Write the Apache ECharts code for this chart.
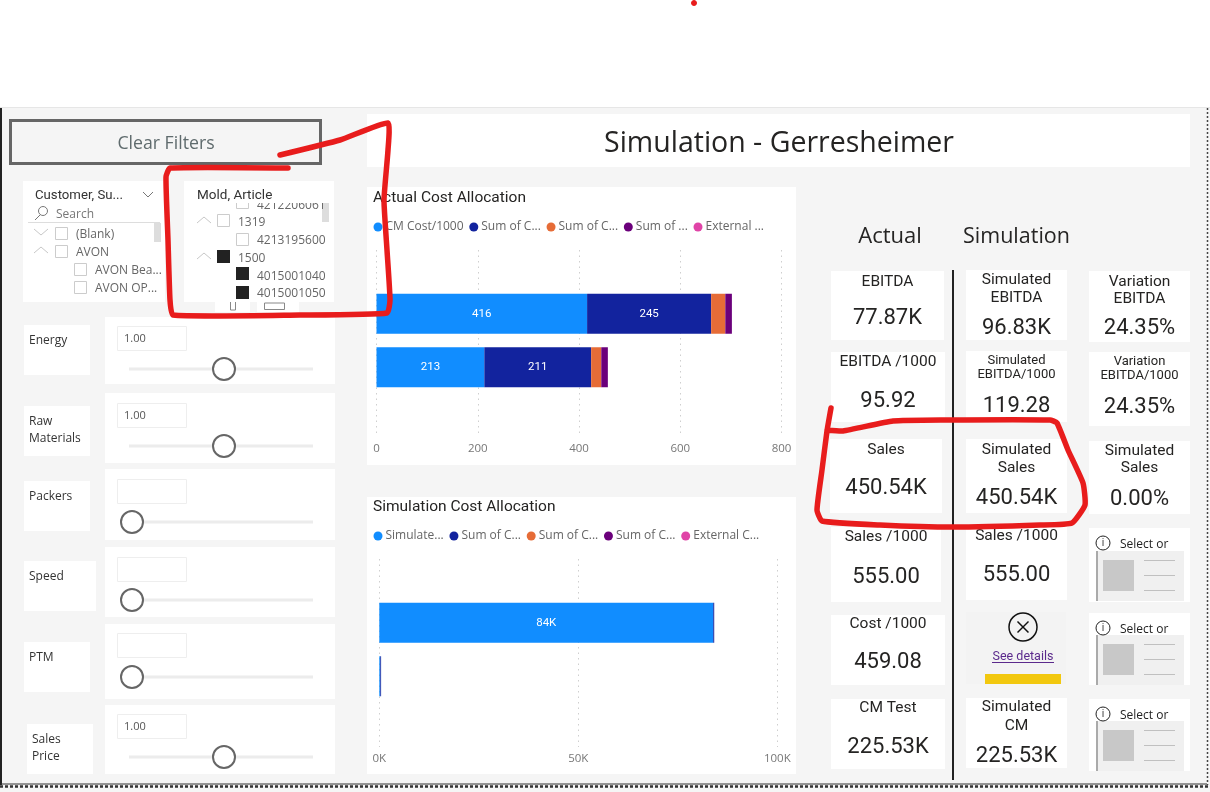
<!DOCTYPE html>
<html>
<head>
<meta charset="utf-8">
<title>Simulation - Gerresheimer</title>
<script src="https://cdn.jsdelivr.net/npm/echarts@6/dist/echarts.min.js"></script>
<style>
  html,body{margin:0;padding:0;background:#fff;overflow:hidden}
  #main{width:1210px;height:792px}
</style>
</head>
<body>
<div id="main"></div>
<script>
// chart values
const rows = ["Row 1", "Row 2"];
const actualLegend = ["CM Cost/1000", "Sum of C...", "Sum of C...", "Sum of ...", "External ..."];
const actualCm = [416, 213];
const actualC1 = [245, 211];
const actualC2 = [28, 20];
const actualC3 = [13, 13];
const actualExt = [0, 0];
const actualTicks = 200, actualMax = 800;

const simLegend = ["Simulate...", "Sum of C...", "Sum of C...", "Sum of C...", "External C..."];
const simCm = [83900, 250];
const simC1 = [250, 200];
const simC2 = [0, 0];
const simC3 = [0, 0];
const simExt = [0, 0];
const simTicks = 50000, simMax = 100000;

const seriesColors = ["#118DFF", "#12239E", "#E66C37", "#6B007B", "#E044A7"];

// card texts
const actualTitles = [["EBITDA"], ["EBITDA /1000"], ["Sales"], ["Sales /1000"], ["Cost /1000"], ["CM Test"]];
const actualValues = ["77.87K", "95.92", "450.54K", "555.00", "459.08", "225.53K"];
const simTitles = [["Simulated", "EBITDA"], ["Simulated", "EBITDA/1000"], ["Simulated", "Sales"], ["Sales /1000"], ["Simulated", "CM"]];
const simValues = ["96.83K", "119.28", "450.54K", "555.00", "225.53K"];
const varTitles = [["Variation", "EBITDA"], ["Variation", "EBITDA/1000"], ["Simulated", "Sales"]];
const varValues = ["24.35%", "24.35%", "0.00%"];
const sliderNames = [["Energy"], ["Raw", "Materials"], ["Packers"], ["Speed"], ["PTM"], ["Sales", "Price"]];
const sliderValues = ["1.00", "1.00", "", "", "", "1.00"];

const DIN = "Roboto, sans-serif";
const SEGOE = "'Open Sans', sans-serif";
const INK = "#252423";
const g = [];

function rect(x, y, w, h, fill, z){
  g.push({type:"rect", z:z ?? -10, shape:{x, y, width:w, height:h}, style:{fill}});
}
function box(x, y, w, h, stroke, lw, fill, z){
  g.push({type:"rect", z:z ?? 5, shape:{x, y, width:w, height:h}, style:{fill:fill||"none", stroke, lineWidth:lw}});
}
function label(x, y, s, size, fill, font, align, z){
  g.push({type:"text", z:z ?? 10, x, y:y+1.5, style:{text:s, fontSize:size, fill, fontFamily:font||DIN, align:align||"left", verticalAlign:"middle"}});
}
function line(pts, stroke, lw, z, dash){
  g.push({type:"polyline", z:z ?? 5, shape:{points:pts}, style:{fill:"none", stroke, lineWidth:lw, lineDash:dash}});
}
function circle(cx, cy, r, stroke, lw, fill, z){
  g.push({type:"circle", z:z ?? 6, shape:{cx, cy, r}, style:{fill:fill||"none", stroke, lineWidth:lw}});
}
function stroke(pts){
  g.push({type:"polyline", z:100, shape:{points:pts, smooth:0.15},
    style:{fill:"none", stroke:"#E81C1C", lineWidth:5.5, lineCap:"round", lineJoin:"round"}});
}

// page frame
rect(0, 107, 1210, 1, "#e6e6e6");
rect(0, 108, 1210, 684, "#F5F5F5");
line([[1,108],[1,785]], "#222", 2);
line([[1,784],[1207,784]], "#333", 1);
line([[0,786.5],[1208,786.5]], "#333", 2.5, 5, [3,2]);
line([[1207.5,108],[1207.5,785]], "#444", 1.5, 5, [2,2]);
circle(694, 3, 2.5, "#E81C1C", 1, "#E81C1C");

// clear button + title
box(10.5, 120.5, 310, 43, "#666", 3, "#F5F5F5", -9);
label(166, 142, "Clear Filters", 17.7, "#5F6B6D", SEGOE, "center");
rect(367, 114, 823, 53, "#fff");
label(779, 142, "Simulation - Gerresheimer", 28.5, INK, SEGOE, "center");

// slicers
function chev(x, y, up){
  const d = up ? -1 : 1;
  line([[x-7,y-3*d],[x,y+3*d],[x+7,y-3*d]], "#c8c8c8", 1);
}
function check(x, y, on){
  if(on) rect(x, y, 13, 13, "#222", 6);
  else box(x+.5, y+.5, 12, 12, "#ccc", 1, "#fff", 6);
}
rect(23, 181, 142, 121, "#fff");
label(35, 194, "Customer, Su...", 13.2, "#333", DIN);
line([[143,192],[148,197],[153,192]], "#777", 1);
circle(43, 211, 4.5, "#777", 1);
line([[40,215],[35,220]], "#777", 1);
label(56, 213, "Search", 12, "#777", SEGOE);
line([[28,222.5],[160,222.5]], "#ddd", 1);
rect(154, 223, 7, 19, "#ddd", 6);
chev(41, 232, false); check(55, 227); label(76, 233, "(Blank)", 12, "#666", SEGOE);
chev(41, 250, true); check(55, 245); label(76, 251, "AVON", 12, "#666", SEGOE);
check(74, 263); label(95, 269, "AVON Bea...", 12, "#666", SEGOE);
check(74, 281); label(95, 287, "AVON OP...", 12, "#666", SEGOE);

rect(184, 181, 150, 121, "#fff");
check(236, 196); label(257, 204, "4212206061", 12, "#666", SEGOE);
rect(184, 181, 150, 22, "#fff", 11);
label(197, 194, "Mold, Article", 13.5, "#333", DIN, "left", 12);
rect(322, 203, 7, 19, "#ddd", 6);
chev(204, 220, true); check(217, 214); label(238, 221, "1319", 12, "#666", SEGOE);
check(236, 233); label(257, 239, "4213195600", 12, "#666", SEGOE);
chev(204, 256, true); check(217, 250, true); label(238, 257, "1500", 12, "#666", SEGOE);
check(236, 267, true); label(257, 275, "4015001040", 12, "#666", SEGOE);
check(236, 286, true); label(257, 292, "4015001050", 12, "#666", SEGOE);
rect(215, 302, 35, 10, "#fff");
rect(257, 302, 42, 10, "#fff");
line([[230.5,302],[230.5,310],[235.5,310],[235.5,302]], "#888", 1);
line([[264.5,303],[264.5,309.5],[284.5,309.5],[284.5,303],[264.5,303]], "#888", 1);

// what-if sliders
const sliderPanels = [[317,67],[393,70],[469,71],[547,70],[624,75],[705,69]];
const sliderLabels = [[24,325,66],[24,406,66],[24,481,66],[24,561,72],[24,642,66],[27,724,66]];
const sliderInputY = [326,403,479,557,633,714];
const sliderTrackY = [369,446,522,600,677,757];
sliderNames.forEach((names, i)=>{
  const [py, ph] = sliderPanels[i];
  const [lx, ly, lw] = sliderLabels[i];
  rect(105, py, 230, ph, "#fff");
  rect(lx, ly, lw, 50, "#fff");
  names.forEach((n, k)=> label(lx+5, ly+14+k*17, n, 12, "#333", SEGOE));
  box(117.5, sliderInputY[i]+.5, 69, 24, "#eee", 1, "#fff", 5);
  if(sliderValues[i]) label(124, sliderInputY[i]+11, sliderValues[i], 11, "#555", SEGOE);
  line([[129,sliderTrackY[i]],[313,sliderTrackY[i]]], "#ececec", 3);
  circle(sliderValues[i] ? 224 : 132, sliderTrackY[i], 11, "#666", 2, "#fff");
});

// chart panels and their titles
rect(367, 187, 429, 278, "#fff");
rect(367, 497, 429, 277, "#fff");
label(373, 197, "Actual Cost Allocation", 15.5, INK, DIN);
label(373, 506, "Simulation Cost Allocation", 15.5, INK, DIN);

// kpi cards
label(890, 235, "Actual", 22, INK, SEGOE, "center");
label(1016.5, 235, "Simulation", 21.5, INK, SEGOE, "center");
line([[953,270],[953,780]], "#222", 2, 8);

function card(b, titles, value, tYs, vY, tSize){
  rect(b[0], b[1], b[2], b[3], "#fff");
  const cx = b[0] + b[2]/2;
  titles.forEach((t, k)=> label(cx, tYs[k], t, tSize||15.5, INK, DIN, "center"));
  label(cx, vY+.5, value, 22, INK, DIN, "center");
}
const actualBoxes = [[831,271,113,69],[831,352,114,70],[830,439,112,74],[831,527,110,75],[831,615,114,70],[831,699,114,70]];
const actualTitleY = [281,361,449,536,623,707];
const actualValueY = [316,399,486,575,660,745];
actualTitles.forEach((t, i)=> card(actualBoxes[i], t, actualValues[i], [actualTitleY[i]], actualValueY[i]));

const simBoxes = [[966,270,101,70],[966,351,101,71],[966,439,101,74],[966,527,101,73],[966,698,101,70]];
const simTitleY = [[279,297],[359,373],[449,467],[535],[706,725]];
const simValueY = [326,404,496,573,754];
simTitles.forEach((t, i)=> card(simBoxes[i], t, simValues[i], simTitleY[i], simValueY[i], i===1?13:15.5));

const varBoxes = [[1089,271,101,71],[1089,352,101,74],[1089,441,101,73]];
const varTitleY = [[281,298],[360,374],[450,467]];
const varValueY = [326,405,497];
varTitles.forEach((t, i)=> card(varBoxes[i], t, varValues[i], varTitleY[i], varValueY[i], i===1?13:15.5));

// broken visual
rect(966, 612, 100, 72, "#F3F3F3");
circle(1023, 627, 14, "#111", 1.5);
line([[1017.5,621.5],[1028.5,632.5]], "#111", 1.5, 7);
line([[1028.5,621.5],[1017.5,632.5]], "#111", 1.5, 7);
label(1023, 655, "See details", 12.5, "#5B2A8C", DIN, "center");
line([[992,662.5],[1054,662.5]], "#5B2A8C", 1, 7);
rect(985, 674, 76, 10, "#F2C80F", -9);

// placeholders for the empty visuals
[[528,74,543,551,560],[613,72,628,635,644],[699,72,714,721,730]].forEach(([y,h,iy,ay,sy])=>{
  rect(1089, y, 101, h, "#fff");
  circle(1103, iy, 7, "#222", 1);
  label(1103, iy-1, "i", 10, "#222", SEGOE, "center");
  label(1120, iy, "Select or", 12, "#222", SEGOE);
  rect(1096, ay, 88, 50, "#F0F0F0", -9);
  rect(1096, ay, 2, 50, "#aaa", -8);
  rect(1103, sy, 31, 31, "#C8C8C8", -8);
  [0,15,30].forEach(d=> line([[1144,sy+d+.5],[1175,sy+d+.5]], "#c0c0c0", 1));
});

// red pen on top of it all
stroke([[280,155],[340,140],[388,123],[388,150],[384,200],[387,250],[390,300],[387,313],[300,315],[173,315],[170,300],[168,240],[166,177],[170,168],[288,168]]);
stroke([[831,408],[827,431],[822,470],[817,510],[822,521],[880,525],[953,527],[1040,525],[1072,523],[1085,505],[1083,483],[1068,450],[1057,423],[1050,420],[943,420],[893,421],[843,431],[827,430]]);

function barSeries(name, data, xi, yi, color, stack, fmt){
  return {
    name, type:"bar", stack, data, xAxisIndex:xi, yAxisIndex:yi,
    barWidth:40, z:3, animation:false, itemStyle:{color},
    label:fmt ? {show:true, position:"inside", color:"#fff", fontSize:11.5, fontFamily:DIN, formatter:fmt} : {show:false}
  };
}
const valueAxis = (gridIndex, interval, max, show, fmt)=>({
  type:"value", gridIndex, min:0, max, interval, show,
  axisLine:{show:false}, axisTick:{show:false},
  axisLabel:{color:"#777", fontSize:11.5, fontFamily:SEGOE, margin:6, formatter:fmt},
  splitLine:{show:show, lineStyle:{color:"#cfcfcf", type:[1.5,4]}}
});
const catAxis = (gridIndex)=>({type:"category", gridIndex, data:rows, inverse:true, show:false});

const actualKeys = actualLegend.map((n,i)=>"actual"+i);
const simKeys = simLegend.map((n,i)=>"sim"+i);
const legendBase = {icon:"circle", itemWidth:9, itemHeight:9, padding:0, itemGap:5.7,
  textStyle:{color:"#666", fontSize:12, fontFamily:SEGOE, padding:[0,0,0,-2]}};

const chart = echarts.init(document.getElementById("main"), null, {renderer:"canvas"});
chart.setOption({
  animation:false,
  backgroundColor:"#fff",
  graphic:{elements:g},
  legend:[
    {...legendBase, left:373.5, top:221, data:actualKeys,
      formatter:n=>actualLegend[actualKeys.indexOf(n)]},
    {...legendBase, left:373.5, top:530, data:simKeys,
      formatter:n=>simLegend[simKeys.indexOf(n)]}
  ],
  grid:[
    {left:376.5, width:405, top:250, height:187},
    {left:376.5, width:405, top:287, height:107},
    {left:379.3, width:398, top:559, height:188},
    {left:379.3, width:398, top:596, height:107}
  ],
  xAxis:[
    valueAxis(0, actualTicks, actualMax, true),
    valueAxis(1, actualTicks, actualMax, false),
    valueAxis(2, simTicks, simMax, true, v=>(v/1000)+"K"),
    valueAxis(3, simTicks, simMax, false)
  ],
  yAxis:[catAxis(0), catAxis(1), catAxis(2), catAxis(3)],
  series:[
    barSeries(actualKeys[0], actualCm, 1, 1, seriesColors[0], "a", p=>Math.round(p.value)),
    barSeries(actualKeys[1], actualC1, 1, 1, seriesColors[1], "a", p=>Math.round(p.value)),
    barSeries(actualKeys[2], actualC2, 1, 1, seriesColors[2], "a"),
    barSeries(actualKeys[3], actualC3, 1, 1, seriesColors[3], "a"),
    barSeries(actualKeys[4], actualExt, 1, 1, seriesColors[4], "a"),
    barSeries(simKeys[0], simCm, 3, 3, seriesColors[0], "s", p=>p.value>1000 ? Math.round(p.value/1000)+"K" : ""),
    barSeries(simKeys[1], simC1, 3, 3, seriesColors[1], "s"),
    barSeries(simKeys[2], simC2, 3, 3, seriesColors[2], "s"),
    barSeries(simKeys[3], simC3, 3, 3, seriesColors[3], "s"),
    barSeries(simKeys[4], simExt, 3, 3, seriesColors[4], "s")
  ]
});
</script>
</body>
</html>
